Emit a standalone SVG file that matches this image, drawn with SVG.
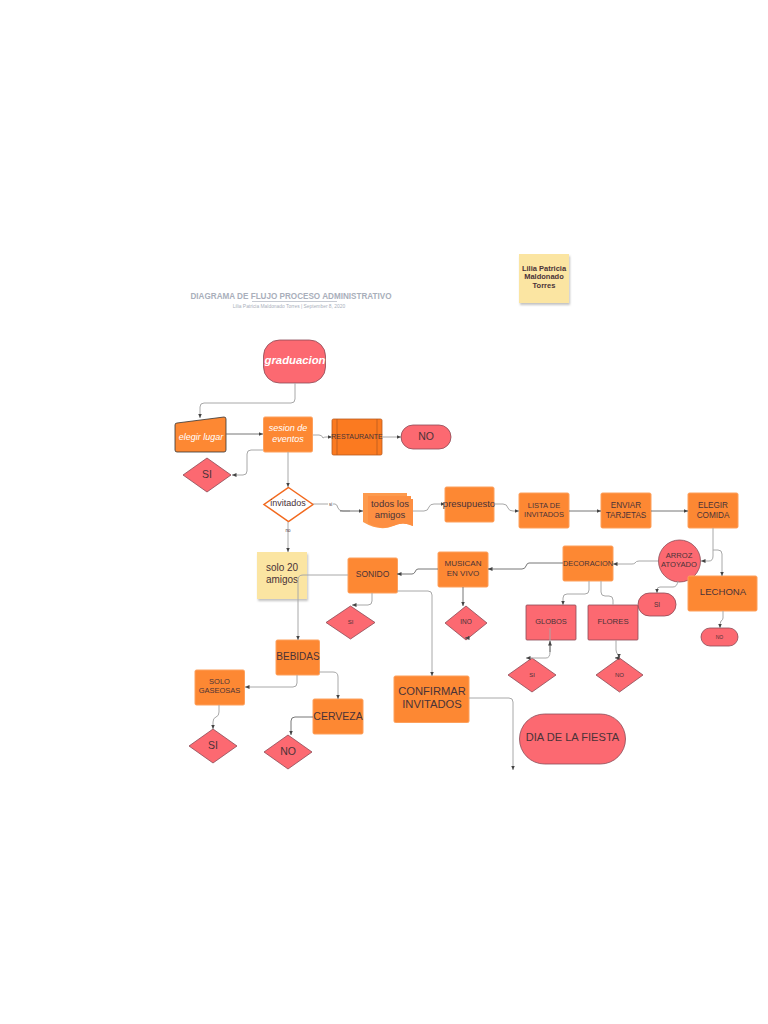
<svg xmlns="http://www.w3.org/2000/svg" width="768" height="1024" viewBox="0 0 768 1024">
<style>
text{font-family:"Liberation Sans",Arial,sans-serif;text-anchor:middle;fill:#4a3338}
.o{fill:#fd8833;stroke:#fda05c;stroke-width:1}
.r{fill:#fc6971;stroke:#8a4a55;stroke-width:.8}
.y{fill:#fbe5a2}
.c{fill:none;stroke:#a8a8a8;stroke-width:1}
.d{fill:none;stroke:#666;stroke-width:.9}
</style>
<defs>
<marker id="a" markerWidth="6" markerHeight="5" refX="4.500" refY="2.500" orient="auto" markerUnits="userSpaceOnUse"><path d="M0 0.500L4.500 2.500L0 4.500z" fill="#444"/></marker>
<filter id="s" x="-10%" y="-10%" width="120%" height="120%"><feDropShadow dx="1" dy="2" stdDeviation="1" flood-color="#999" flood-opacity=".6"/></filter>
</defs>
<g id="title">
<text x="291" y="299" font-size="8.150" font-weight="bold" style="fill:#a9afbb">DIAGRAMA DE FLUJO PROCESO ADMINISTRATIVO</text>
<path d="M252 301.500H337" stroke="#b8bcc6" stroke-width=".8"/>
<text x="289" y="308" font-size="4.900" style="fill:#a9afbb">Lilia Patricia Maldonado Torres  |  September 8, 2020</text>
</g>
<g id="autor"><rect class="y" x="519" y="254" width="50" height="49" filter="url(#s)"/>
<text x="544" y="271" font-size="7.500" font-weight="bold">Lilia Patricia</text><text x="544" y="279" font-size="7.500" font-weight="bold">Maldonado</text><text x="544" y="288" font-size="7.500" font-weight="bold">Torres</text></g>
<g id="graduacion"><rect class="r" x="263.500" y="340" width="62" height="43" rx="16"/><text x="295" y="364" font-size="11.300" font-weight="bold" font-style="italic" style="fill:#fff">graduacion</text></g>
<g id="elegir"><path d="M177 423L224 417Q226 417 226 419V450Q226 452 224 452H177Q175 452 175 450V425Q175 423 177 423z" fill="#fd8833" stroke="#333" stroke-width=".8"/><text x="201" y="440" font-size="9" font-style="italic" style="fill:#fff">elegir lugar</text></g>
<g id="sesion"><rect class="o" x="263.500" y="417" width="49" height="35" rx="1.500"/><text x="288" y="431" font-size="9" font-style="italic" style="fill:#fff">sesion de</text><text x="288" y="442" font-size="9" font-style="italic" style="fill:#fff">eventos</text></g>
<g id="restaurante"><rect x="332" y="419" width="50" height="36" rx="1.500" fill="#fb7a20" stroke="#b95a20" stroke-width=".8"/><path d="M337 419V455M377 419V455" stroke="#b95a20" stroke-width=".8"/><text x="357" y="439" font-size="7">RESTAURANTE</text></g>
<g id="no1"><rect class="r" x="401" y="425" width="50" height="24" rx="12"/><text x="426" y="440" font-size="10.500">NO</text></g>
<g id="si1"><path class="r" d="M207 458L231 475L207 492L183 475z"/><text x="207" y="478" font-size="10.500">SI</text></g>
<g id="invitados"><path d="M288.500 487.500L313 504.500L288.500 521.500L264 504.500z" fill="#fff" stroke="#f2691e" stroke-width="1.500"/><text x="288" y="506" font-size="9">invitados</text></g>
<g id="todos"><path d="M363 493H407V496H411V499H413V526Q403 521 393 526Q380 532 363 522z" fill="#fd9a4d"/><path d="M368 496H411V499H413V526Q403 521 393 526Q380 530 368 523z" fill="#fd8f42"/><text x="390" y="507" font-size="9.500">todos los</text><text x="390" y="518" font-size="9.500">amigos</text></g>
<g id="presupuesto"><rect class="o" x="445" y="487" width="49" height="35" rx="1.500"/><text x="469" y="507" font-size="9.500">presupuesto</text></g>
<g id="lista"><rect class="o" x="519" y="493" width="50" height="35" rx="1.500"/><text x="544" y="508" font-size="7.500">LISTA DE</text><text x="544" y="517" font-size="7.500">INVITADOS</text></g>
<g id="enviar"><rect class="o" x="601" y="493" width="50" height="35" rx="1.500"/><text x="626" y="508" font-size="8.200">ENVIAR</text><text x="626" y="518" font-size="8.200">TARJETAS</text></g>
<g id="elegir-comida"><rect class="o" x="688" y="493" width="50" height="35" rx="1.500"/><text x="713" y="508" font-size="8.200">ELEGIR</text><text x="713" y="518" font-size="8.200">COMIDA</text></g>
<g id="arroz"><circle class="r" cx="679.500" cy="561" r="21"/><text x="679" y="558" font-size="7.600">ARROZ</text><text x="679" y="567" font-size="7.600">ATOYADO</text></g>
<g id="decoracion"><rect class="o" x="563" y="546" width="50" height="35" rx="1.500"/><text x="588" y="566" font-size="7.400">DECORACION</text></g>
<g id="lechona"><rect class="o" x="688" y="576" width="69" height="35" rx="1.500"/><text x="723" y="595" font-size="9.600">LECHONA</text></g>
<g id="musican"><rect class="o" x="438" y="552" width="50" height="35" rx="1.500"/><text x="463" y="566" font-size="8">MUSICAN</text><text x="463" y="576" font-size="8">EN VIVO</text></g>
<g id="sonido"><rect class="o" x="348" y="558" width="49.500" height="35" rx="1.500"/><text x="372.500" y="577" font-size="8.500">SONIDO</text></g>
<g id="solo20"><rect class="y" x="257" y="552" width="50" height="47" filter="url(#s)"/><text x="282" y="571" font-size="10">solo 20</text><text x="282" y="583" font-size="10">amigos</text></g>
<g id="si-sonido"><path class="r" d="M350.500 606L375 622.500L350.500 639L326 622.500z"/><text x="350.500" y="624" font-size="6">SI</text></g>
<g id="no-musica"><path class="r" d="M466 606L487 623L466 640L445 623z"/><text x="466" y="624" font-size="6.500">INO</text></g>
<g id="globos"><rect class="r" x="526" y="605" width="50" height="35" rx="1"/><text x="551" y="624" font-size="7.500">GLOBOS</text></g>
<g id="flores"><rect class="r" x="588" y="605" width="50" height="35" rx="1"/><text x="613" y="624" font-size="7.800">FLORES</text></g>
<g id="si-arroz"><rect class="r" x="638" y="593" width="38" height="23" rx="11.500"/><text x="657" y="606.500" font-size="6.500">SI</text></g>
<g id="no-lechona"><rect class="r" x="701" y="628" width="37" height="18" rx="9"/><text x="719.500" y="639" font-size="5">NO</text></g>
<g id="si-globos"><path class="r" d="M532 658L556 675L532 692L508 675z"/><text x="532" y="677" font-size="6">SI</text></g>
<g id="no-flores"><path class="r" d="M619.500 658L643 675L619.500 692L596 675z"/><text x="619.500" y="677" font-size="6">NO</text></g>
<g id="bebidas"><rect class="o" x="276" y="640" width="43.500" height="35" rx="1.500"/><text x="298" y="660" font-size="10">BEBIDAS</text></g>
<g id="gaseosas"><rect class="o" x="195" y="670" width="49.500" height="35" rx="1.500"/><text x="219.500" y="684" font-size="7.500">SOLO</text><text x="219.500" y="693" font-size="7.500">GASEOSAS</text></g>
<g id="cerveza"><rect class="o" x="313" y="699" width="50" height="35" rx="1.500"/><text x="338" y="720" font-size="10.500">CERVEZA</text></g>
<g id="confirmar"><rect class="o" x="394" y="676" width="75" height="46.500" rx="1.500"/><text x="432" y="695" font-size="11.200">CONFIRMAR</text><text x="432" y="708" font-size="11.200">INVITADOS</text></g>
<g id="si-gas"><path class="r" d="M213 729L237 746L213 763L189 746z"/><text x="213" y="749" font-size="10.500">SI</text></g>
<g id="no-cerveza"><path class="r" d="M288 735L312 752L288 769L264 752z"/><text x="288" y="755" font-size="10.500">NO</text></g>
<g id="dia"><rect class="r" x="519.500" y="714" width="106" height="50" rx="25"/><text x="572.500" y="741" font-size="11.100">DIA DE LA FIESTA</text></g>
<g id="connectors">
<path class="c" d="M295 383V399Q295 403 291 403H204Q200 403 200 407V418" marker-end="url(#a)"/>
<path class="d" d="M226 434H263" marker-end="url(#a)"/>
<path class="c" d="M313 435H319Q322 435 323 438Q324 437 326 437H332" marker-end="url(#a)"/>
<path class="c" d="M382 437H401" marker-end="url(#a)"/>
<path class="c" d="M263 450H251Q247 450 247 454V471Q247 475 243 475H232" marker-end="url(#a)"/>
<path class="c" d="M288 452V487" marker-end="url(#a)"/>
<path class="c" d="M313 504H328"/>
<path class="c" d="M333 504H335Q337 504 338 508Q339 511 343 511H350"/>
<path class="d" d="M340 511H363" marker-end="url(#a)"/>
<path class="c" d="M413 511H424Q428 511 429 507Q430 504 434 504H445" marker-end="url(#a)"/>
<path class="c" d="M494 504H503Q507 504 508 508Q509 511 513 511H519" marker-end="url(#a)"/>
<path class="d" d="M569 511H601" marker-end="url(#a)"/>
<path class="d" d="M651 511H688" marker-end="url(#a)"/>
<path class="c" d="M713 528V556Q713 561 709 561H701" marker-end="url(#a)"/>
<path class="c" d="M713 550H718Q722 550 722 554V576" marker-end="url(#a)"/>
<path class="c" d="M658 561H639Q636 561 635 563Q634 564 632 564H613" marker-end="url(#a)"/>
<path class="d" d="M563 563H529Q527 563 526 566Q525 569 522 569H488" marker-end="url(#a)"/>
<path class="d" d="M438 569H418Q416 569 415 572Q414 574 412 574H397" marker-end="url(#a)"/>
<path class="c" d="M348 575H303Q298 575 298 580V640" marker-end="url(#a)"/>
<path class="c" d="M288 522V552" marker-end="url(#a)"/>
<path class="c" d="M397 591H428Q432 591 432 595V676" marker-end="url(#a)"/>
<path class="c" d="M372 593V601Q372 605 368 605H352" marker-end="url(#a)"/>
<path class="d" d="M463 587V606" marker-end="url(#a)"/>
<path class="d" d="M469 636Q468 638 465 638" marker-end="url(#a)"/>
<path class="c" d="M589 581V590Q589 594 585 594H567Q563 594 563 598V605" marker-end="url(#a)"/>
<path class="c" d="M601 581V592Q601 596 605 596H609Q613 596 613 600V605"/>
<path class="c" d="M678 581Q677 587 673 587H660Q657 587 657 590V593" marker-end="url(#a)"/>
<path class="c" d="M723 611V618Q723 620 721 621Q720 622 720 628" marker-end="url(#a)"/>
<path class="c" d="M550 628V652Q550 658 546 658H526" marker-end="url(#a)"/>
<path class="d" d="M550 652V641" marker-end="url(#a)"/>
<path class="c" d="M616 640V650Q616 654 619 655V658" marker-end="url(#a)"/>
<path class="d" d="M620 655Q618 658 615 658" marker-end="url(#a)"/>
<path class="c" d="M297 675V683Q297 687 293 687H245" marker-end="url(#a)"/>
<path class="c" d="M319 672H333Q338 672 338 677V699" marker-end="url(#a)"/>
<path class="c" d="M219 705V712Q219 716 216 717Q213 718 213 722V729" marker-end="url(#a)"/>
<path class="d" d="M313 717H295Q291 717 291 721V735" marker-end="url(#a)"/>
<path class="c" d="M469 698H509Q513 698 513 702V770" marker-end="url(#a)"/>
<text x="330.500" y="505.500" font-size="4.500">si</text>
<text x="288" y="532" font-size="4.500">no</text>
</g>
</svg>
